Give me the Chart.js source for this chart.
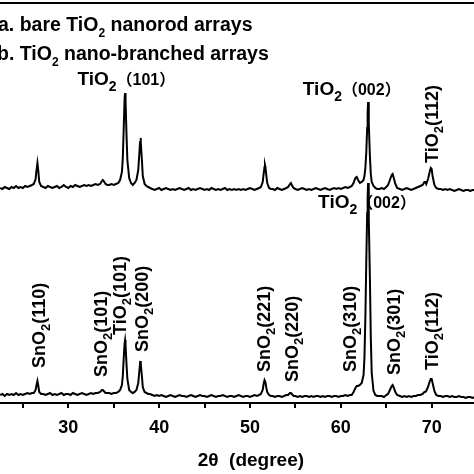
<!DOCTYPE html>
<html><head><meta charset="utf-8">
<script src="https://cdn.jsdelivr.net/npm/chart.js@4.4.1/dist/chart.umd.min.js"></script>
<style>html,body{margin:0;padding:0;background:#fff;overflow:hidden}canvas{display:block}</style>
</head><body>
<canvas id="c" width="474" height="474"></canvas>
<script>
// 2θ sampling positions (degree)
const twoTheta = [
 22.5,22.75,23,23.25,23.5,23.75,24,24.25,24.5,24.75,25,25.25,25.5,25.75,26,
 26.2,26.4,26.5,26.6,26.7,26.8,27.0,
 27.25,27.5,27.75,28,28.25,28.5,28.75,29,29.25,29.5,29.75,30,30.25,30.5,30.75,31,31.25,31.5,31.75,32,32.25,32.5,32.75,33,33.25,
 33.5,33.7,33.8,33.9,34.1,34.3,
 34.5,34.75,35,35.25,35.5,35.7,35.9,36,36.1,36.2,36.25,36.3,36.4,36.5,36.7,36.9,37.1,37.3,37.5,37.7,37.8,37.9,37.95,38,38.1,38.2,38.4,38.6,38.8,
 39,39.25,39.5,39.75,40,40.25,40.5,40.75,41,41.25,41.5,41.75,42,42.25,42.5,42.75,43,43.25,43.5,43.75,44,44.25,44.5,44.75,45,45.25,45.5,45.75,46,46.25,46.5,46.75,47,47.25,47.5,47.75,48,48.25,48.5,48.75,49,49.25,49.5,49.75,50,50.25,50.5,50.75,51,
 51.2,51.4,51.5,51.6,51.65,51.7,51.8,51.9,52.1,52.3,
 52.5,52.75,53,53.25,53.5,53.75,54,
 54.2,54.4,54.5,54.6,54.8,
 55,55.25,55.5,55.75,56,56.25,56.5,56.75,57,57.25,57.5,57.75,58,58.25,58.5,58.75,59,59.25,59.5,59.75,60,60.25,60.5,60.75,61,
 61.2,61.4,61.6,61.75,61.9,62.1,62.3,62.5,62.6,62.7,62.8,62.9,62.95,63,63.05,63.1,63.2,63.3,63.4,63.6,63.8,64,
 64.25,64.5,64.75,65,
 65.2,65.4,65.6,65.7,65.8,66,66.2,
 66.5,66.75,67,67.25,67.5,67.75,68,68.25,68.5,68.75,
 69,69.2,69.3,69.4,69.6,69.8,69.9,70,70.1,70.3,70.5,70.75,
 71,71.25,71.5,71.75,72,72.25,72.5,72.75,73,73.25,73.5,73.75,74,74.25,74.5,74.75
];
// upper pattern (drawn shifted up by OFFSET_A)
const intensityA = [
 10,9,11,10,9,11,10,12,10,11,10,12,11,12,13,
 14,19,28,35,27,16,12,
 11,10,12,11,10,11,12,10,11,13,11,10,12,11,13,12,11,12,13,12,13,12,13,14,13,
 14,17,18,17,14,13,
 13,14,13,14,15,18,26,40,70,100,105,98,65,38,20,15,13,15,18,28,42,56,60,56,38,22,14,12,11,
 10,9,8,9,10,8,9,10,9,8,9,8,9,10,9,8,9,10,8,9,8,9,10,9,8,9,8,10,9,8,9,8,9,10,8,9,8,9,8,9,8,9,8,9,10,9,8,9,10,
 11,16,24,31,33,31,22,15,10,9,
 9,8,10,9,8,9,10,
 11,14,15,13,10,
 9,8,9,10,9,8,9,8,9,10,9,8,9,10,9,8,9,10,9,10,9,10,11,10,11,
 12,15,20,21,18,15,16,18,22,30,45,70,85,96,93,75,42,24,16,12,10,9,
 9,10,9,11,
 13,18,23,24,21,14,10,
 9,8,9,10,9,8,9,10,11,12,
 13,16,16,14,19,27,30,29,22,13,10,9,
 9,8,9,8,9,8,7,8,9,8,7,8,8,7,8,8
];
// lower pattern
const intensityB = [
 8,9,7,9,8,9,8,10,8,9,8,9,10,9,10,
 10,13,18,22,17,11,9,
 9,8,9,10,8,9,8,9,10,8,9,9,8,10,9,8,9,10,9,8,9,10,9,10,10,
 11,13,13,12,10,10,
 10,9,10,10,11,13,18,27,45,60,63,58,40,24,13,11,10,11,13,20,30,40,42,39,27,16,11,10,9,
 9,8,7,8,7,8,7,6,7,8,7,6,7,8,7,7,6,7,8,7,6,7,8,7,7,6,7,8,7,6,7,7,8,7,6,7,7,6,7,8,7,6,7,7,6,7,8,7,8,
 9,13,19,23,23,21,15,11,8,7,
 7,6,7,7,6,7,8,
 8,10,10,9,7,
 7,6,7,6,7,7,6,7,6,7,7,6,7,6,7,7,6,7,7,6,7,7,8,7,8,
 8,11,15,17,17,18,20,28,45,85,140,190,205,220,212,185,125,65,30,12,8,7,
 7,7,6,8,
 9,13,17,18,16,11,8,
 7,6,7,6,7,6,7,7,8,8,
 9,11,11,12,16,22,24,24,20,12,8,7,
 7,6,7,7,6,7,6,6,7,6,6,5,6,6,5,6
];
const OFFSET_A = 205;
const X_MIN = 22.48, X_MAX = 74.66;
const xTickLabels = [30, 40, 50, 60, 70];
const axisTitle = '2θ  (degree)';
const legendLines = [
  ['a. bare TiO', '2', ' nanorod arrays'],
  ['b. TiO', '2', ' nano-branched arrays']
];
// peak labels anchored in data coordinates (2θ, intensity)
const peakLabelsRot = [
  {parts: ['SnO','2','(110)'], x: 27.44, y: 35},
  {parts: ['SnO','2','(101)'], x: 34.26, y: 26},
  {parts: ['TiO','2','(101)'], x: 36.3, y: 68},
  {parts: ['SnO','2','(200)'], x: 38.77, y: 51},
  {parts: ['SnO','2','(221)'], x: 52.2, y: 31},
  {parts: ['SnO','2','(220)'], x: 55.28, y: 21},
  {parts: ['SnO','2','(310)'], x: 61.66, y: 31},
  {parts: ['SnO','2','(301)'], x: 66.5, y: 28},
  {parts: ['TiO','2','(112)'], x: 70.7, y: 33},
  {parts: ['TiO','2','(112)'], x: 70.7, y: 240}
];
const peakLabelsFlat = [
  {parts: ['TiO','2','（101）'], x: 31.0, y: 318},
  {parts: ['TiO','2','（002）'], x: 55.82, y: 308},
  {parts: ['TiO','2','（002）'], x: 57.5, y: 195}
];

const FAM = 'Arial, "Liberation Sans", "Noto Sans CJK SC", sans-serif';
const seriesA = twoTheta.map((t, i) => ({x: t, y: intensityA[i] + OFFSET_A}));
const seriesB = twoTheta.map((t, i) => ({x: t, y: intensityB[i]}));

function drawRuns(ctx, x, y, runs) {
  for (const [txt, size, dy] of runs) {
    ctx.font = 'bold ' + size + 'px ' + FAM;
    ctx.fillText(txt, x, y + dy);
    x += ctx.measureText(txt).width;
  }
}

const annot = {
  id: 'annot',
  afterDraw(chart) {
    const {ctx, chartArea, scales} = chart;
    const xs = scales.x, ys = scales.y;
    ctx.save();
    ctx.strokeStyle = '#000';
    ctx.lineWidth = 2;
    ctx.beginPath();
    ctx.moveTo(0, chartArea.top);
    ctx.lineTo(chart.width, chartArea.top);
    ctx.stroke();
    ctx.fillStyle = '#000';
    ctx.textBaseline = 'alphabetic';
    ctx.textAlign = 'left';
    drawRuns(ctx, -2, 31, [[legendLines[0][0], 19.5, 0], [legendLines[0][1], 12, 6], [legendLines[0][2], 19.5, 0]]);
    drawRuns(ctx, -3, 60, [[legendLines[1][0], 19.5, 0], [legendLines[1][1], 12, 6], [legendLines[1][2], 19.5, 0]]);
    for (const L of peakLabelsFlat) {
      drawRuns(ctx, xs.getPixelForValue(L.x), ys.getPixelForValue(L.y),
        [[L.parts[0], 19, 0], [L.parts[1], 14, 6], [L.parts[2], 16, 0]]);
    }
    for (const L of peakLabelsRot) {
      ctx.save();
      ctx.translate(xs.getPixelForValue(L.x), ys.getPixelForValue(L.y));
      ctx.rotate(-Math.PI / 2);
      drawRuns(ctx, 0, 0, [[L.parts[0], 18, 0], [L.parts[1], 13, 5], [L.parts[2], 18, 0]]);
      ctx.restore();
    }
    ctx.font = 'bold 19px ' + FAM;
    ctx.textAlign = 'center';
    ctx.fillText(axisTitle, xs.getPixelForValue(50.1), chartArea.bottom + 63);
    ctx.restore();
  }
};

new Chart(document.getElementById('c'), {
  type: 'line',
  data: {
    datasets: [
      {label: 'a', data: seriesA, borderColor: '#000', borderWidth: 2, pointRadius: 0, tension: 0, fill: false},
      {label: 'b', data: seriesB, borderColor: '#000', borderWidth: 2, pointRadius: 0, tension: 0, fill: false}
    ]
  },
  options: {
    responsive: false,
    animation: false,
    devicePixelRatio: 1,
    layout: {padding: {top: 3, left: 0, right: 0, bottom: 0}},
    plugins: {legend: {display: false}, tooltip: {enabled: false}},
    scales: {
      x: {
        type: 'linear', min: X_MIN, max: X_MAX,
        afterFit: (s) => { s.height = 71; },
        border: {display: true, color: '#000', width: 2},
        grid: {display: true, drawOnChartArea: false, drawTicks: true, tickLength: 5, color: '#000', lineWidth: 2},
        ticks: {
          stepSize: 5, includeBounds: false, autoSkip: false, maxRotation: 0, padding: 9,
          color: '#000', font: {family: FAM, size: 18, weight: 'bold'},
          callback: (v) => xTickLabels.includes(v) ? String(v) : ''
        }
      },
      y: {type: 'linear', min: 0, max: 400, display: false}
    }
  },
  plugins: [annot]
});
</script>
</body></html>
